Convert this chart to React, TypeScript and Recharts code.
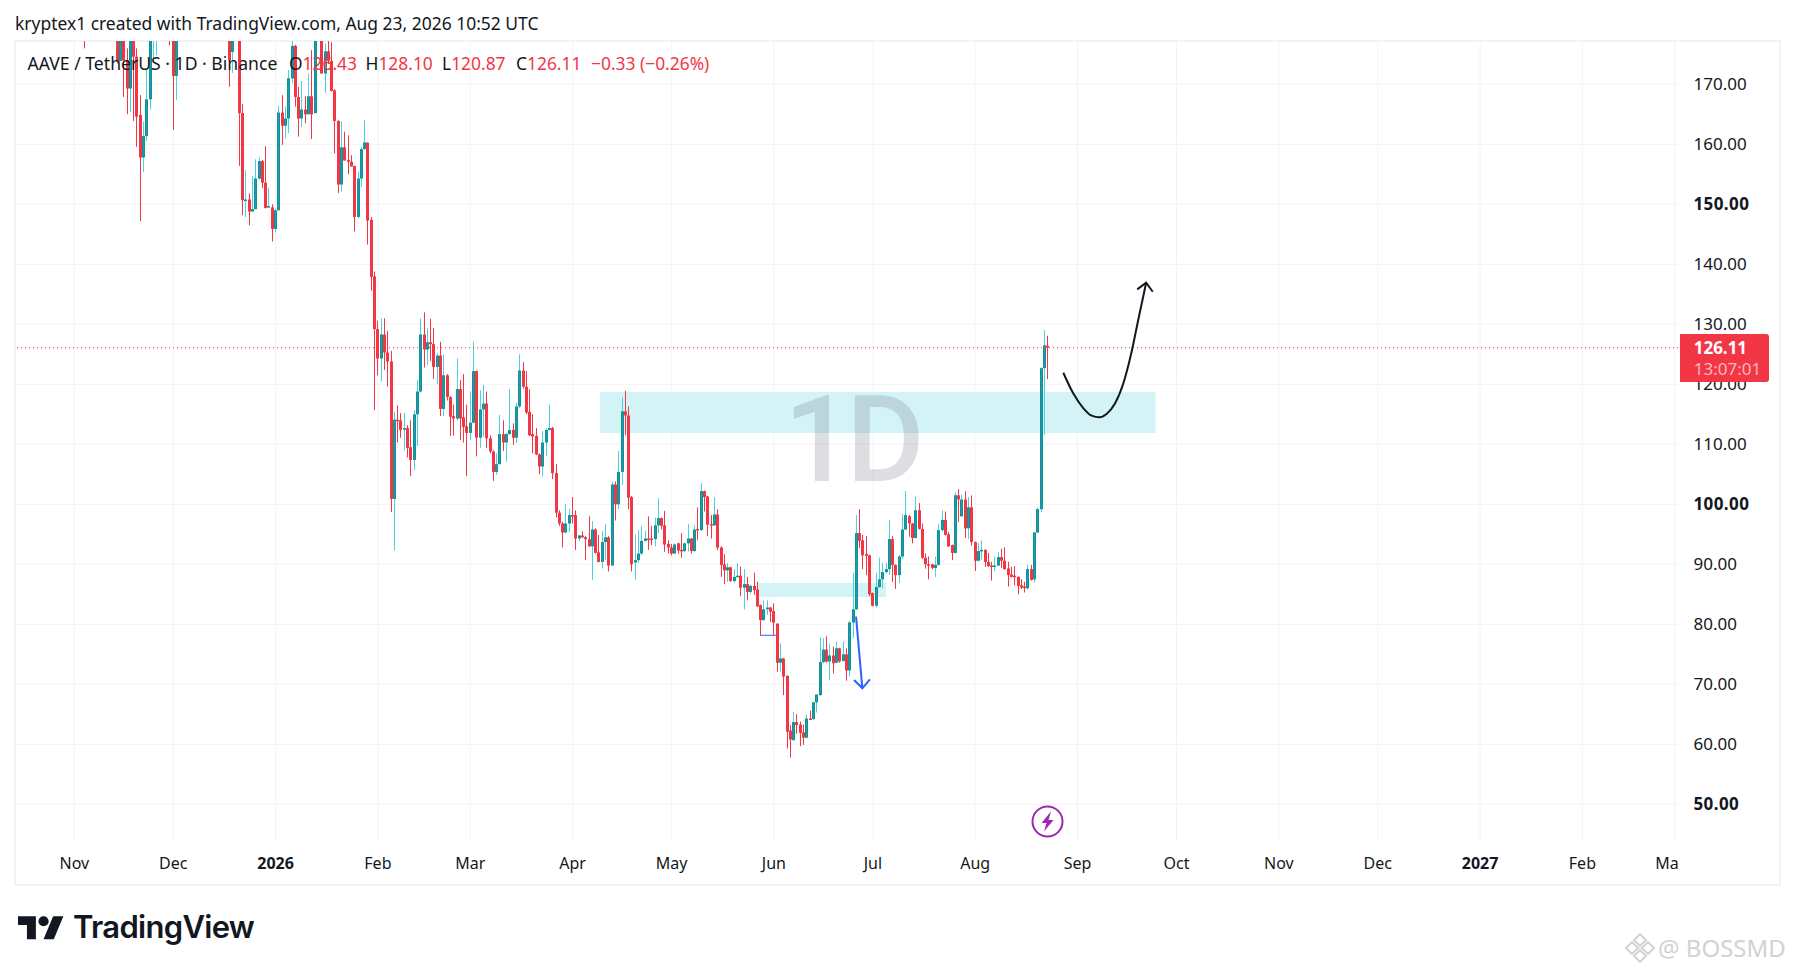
import React from 'react';
import { ComposedChart, Bar, Line, XAxis, YAxis, CartesianGrid, ReferenceArea, ReferenceLine } from 'recharts';

// day = days since 1 Nov 2025, row = [day, open, high, low, close]
const nov25 = [
  [3, 186, 188, 176, 178], [13, 180, 183, 173.5, 173.9], [14, 173.9, 182, 173.9, 180], [15, 182, 184, 167.9, 174],
  [16, 174, 176, 165, 169.3], [17, 169.3, 180, 165.4, 179], [18, 180, 182, 163.9, 174.6], [19, 174.6, 176, 159.6, 164.6],
  [20, 164.9, 168.2, 147.2, 157.8], [21, 157.8, 163.8, 155.4, 161.4], [22, 161.4, 172.4, 160.6, 167.5], [23, 167.5, 180, 165.8, 178],
  [24, 180, 184, 174.3, 181], [25, 181, 186, 174.9, 184], [29, 186, 188, 176.5, 178.5],
];
const dec25 = [
  [30, 178.5, 181, 162.4, 171.4], [31, 171.4, 179, 167.4, 178], [47, 182, 184, 169.6, 174], [48, 175.4, 180, 171.9, 179],
  [50, 182, 184, 156.4, 165.2], [51, 165.2, 166.7, 148.2, 150.7], [52, 150.6, 155.7, 147.9, 150.8], [53, 150.8, 151.8, 146.5, 148.8],
  [54, 148.8, 154.7, 148.8, 149.2], [55, 149.2, 157.5, 149.2, 154.3], [56, 154.3, 157.8, 154.1, 157.2], [57, 157.2, 157.4, 152.7, 153.6],
  [58, 153.6, 159.7, 149.3, 149.4], [59, 149.6, 152.7, 149.5, 149.7], [60, 149.5, 150, 143.8, 145.9],
];
const jan26 = [
  [61, 145.9, 149.3, 145.3, 149], [62, 149, 166.4, 149, 165.3], [63, 165.3, 168.2, 159.9, 163.1], [64, 163.1, 166.3, 161, 164.3],
  [65, 164.3, 172.4, 161.9, 171], [66, 171, 177.2, 170.2, 176.4], [67, 176.4, 176.6, 166.3, 167.9], [68, 167.9, 169.6, 161.3, 164.3],
  [69, 164.3, 170.6, 162.9, 165.8], [70, 165.8, 168, 163.5, 165], [71, 165, 171.8, 165, 168], [72, 168, 175.7, 160.9, 165],
  [73, 165.2, 183, 165.2, 180], [75, 182, 185, 171.8, 171.8], [76, 171.8, 176.8, 168.6, 175.5], [77, 175.5, 177.2, 173.4, 173.9],
  [78, 173.9, 177, 168.8, 168.9], [79, 169, 169.2, 158.5, 163.9], [80, 163.9, 164, 151.9, 153.3], [81, 153.3, 163.8, 152.1, 159.5],
  [82, 159.5, 162.1, 157.3, 157.3], [83, 157.4, 161.5, 155, 157.1], [84, 157.1, 158.2, 156.3, 156.3], [85, 156.4, 156.4, 145.5, 147.9],
  [86, 147.9, 155.5, 147.7, 154.3], [87, 154.3, 159.6, 152.9, 159.2], [88, 159.2, 164, 159.2, 160.3], [89, 160.3, 160.3, 143.3, 147.3],
  [90, 147.4, 147.9, 135.6, 137.9], [91, 138, 138.8, 115.7, 129.2],
];
const feb26 = [
  [92, 129.2, 130.6, 121.5, 124.3], [93, 124.3, 131, 120.5, 128.3], [94, 128.3, 131, 122.4, 125.3], [95, 125.3, 128.9, 119.6, 123.8],
  [96, 123.8, 125.6, 98.7, 100.9], [97, 100.9, 115.4, 92.3, 114.1], [98, 114.1, 116.5, 110.3, 114], [99, 114, 115.2, 111.1, 112.4],
  [100, 112.5, 115.2, 109, 112.7], [101, 112.7, 113.2, 107.8, 109.4], [102, 109.5, 114, 104.7, 107.4], [103, 107.4, 115.7, 105.7, 115],
  [104, 115, 120.7, 109.7, 118.8], [105, 118.8, 131, 118.6, 128.3], [106, 128.3, 132, 122.8, 125.8], [107, 125.8, 129.4, 123.2, 127],
  [108, 127, 130.9, 123.9, 126.7], [109, 126.7, 129.4, 120.9, 122.9], [110, 122.9, 125.2, 120, 124.8], [111, 124.8, 127.1, 114.7, 115.9],
  [112, 115.9, 125, 114.7, 121.5], [113, 121.5, 121.7, 117.3, 117.9], [114, 117.9, 118, 111.4, 114.6], [115, 114.7, 116.6, 111.5, 114.3],
  [116, 114.3, 124.3, 113.9, 119.2], [117, 119.2, 120.7, 110.7, 114.3], [118, 114.5, 121.7, 110.3, 112.9], [119, 113, 116.6, 104.7, 111.9],
];
const mar26 = [
  [120, 111.9, 118.8, 110.7, 113.6], [121, 113.6, 127.1, 113.5, 122.2], [122, 122.2, 122.3, 108, 111.1], [123, 111.1, 119, 109.4, 115.8],
  [124, 115.8, 119.9, 111.3, 116.8], [125, 116.8, 118.8, 109.4, 111], [126, 111, 111.5, 108.5, 108.8], [127, 108.8, 109, 103.9, 105.4],
  [128, 105.4, 108.5, 104.9, 106.7], [129, 106.7, 114.9, 106.6, 111.7], [130, 111.7, 114, 108.9, 110.3], [131, 110.3, 111.9, 107.1, 111.7],
  [132, 111.7, 119.2, 111.6, 112.4], [133, 112.4, 113.5, 109.9, 111.1], [134, 111.1, 116.9, 110.2, 116.3], [135, 116.3, 125, 116, 122.3],
  [136, 122.3, 123.7, 119.3, 119.6], [137, 119.6, 122.2, 115, 115.3], [138, 115.4, 119.2, 111.4, 111.5], [139, 111.7, 115, 108.5, 111.3],
  [140, 111.4, 112.7, 108.2, 108.3], [141, 108.3, 108.5, 105, 106.3], [142, 106.3, 112.2, 104.7, 110.3], [143, 110.3, 112.7, 108, 112.4],
  [144, 112.4, 116.6, 112.3, 112.7], [145, 112.7, 112.9, 104.2, 105.2], [146, 105.2, 106.7, 97.8, 98.6], [147, 98.6, 99, 96.4, 96.8],
  [148, 96.8, 97.1, 92.8, 95.3], [149, 95.3, 100, 95.2, 96.8], [150, 96.8, 99.3, 95.4, 98.2],
];
const apr26 = [
  [151, 98.2, 101.2, 96.8, 98], [152, 98.2, 99, 92.4, 94.3], [153, 94.3, 94.9, 93.9, 94.8], [154, 94.8, 95.5, 94.4, 94.5],
  [155, 94.5, 94.7, 90.7, 94.2], [156, 94.2, 98, 92.9, 93], [157, 93, 97.2, 87.4, 95.8], [158, 95.8, 96, 91.8, 91.9],
  [159, 92, 94.9, 90.3, 90.4], [160, 90.4, 95.5, 89.3, 93.7], [161, 93.7, 96.7, 90.7, 94.5], [162, 94.5, 94.7, 88.8, 89.8],
  [163, 89.8, 103.8, 89.7, 103.3], [164, 103.3, 103.8, 97.3, 100], [165, 100, 108.9, 99.2, 105.4], [166, 105.4, 117.8, 103.2, 115.5],
  [167, 115.5, 118.9, 111.5, 114.8], [168, 114.8, 116.3, 99.2, 101.1], [169, 101.2, 101.4, 88.8, 90], [170, 90.3, 95, 87.4, 90.7],
  [171, 90.7, 95.7, 90.2, 91.8], [172, 91.8, 96.4, 91.5, 93.9], [173, 93.9, 95.6, 93.8, 94.3], [174, 94.3, 98, 92.4, 94.2],
  [175, 94.3, 96.4, 93.2, 94.1], [176, 94.2, 97.8, 93, 96.5], [177, 96.5, 101, 95.2, 97.7], [178, 97.7, 97.8, 95.8, 96.4],
  [179, 96.5, 98.9, 92.1, 93.3], [180, 93.4, 94, 91.8, 92.8],
];
const may26 = [
  [181, 92.8, 93.4, 91.5, 91.8], [182, 91.8, 93.5, 91.7, 93.3], [183, 93.5, 93.6, 91.8, 92.3], [184, 92.4, 95.2, 91.1, 92.2],
  [185, 92.2, 93.6, 92.1, 93.5], [186, 93.5, 96.7, 92.1, 94.3], [187, 94.3, 94.4, 91.8, 92.2], [188, 92.2, 96.5, 92.1, 95.8],
  [189, 95.9, 99.5, 94, 95.7], [190, 95.7, 103.5, 95.6, 102.2], [191, 102.2, 102.3, 98.8, 101.2], [192, 101.3, 101.4, 94.7, 96.6],
  [193, 96.7, 98.2, 94.3, 96.5], [194, 96.5, 101.2, 96.4, 98.3], [195, 98.3, 99.2, 92.4, 92.8], [196, 92.8, 93, 87.9, 89.9],
  [197, 90, 91.7, 86.7, 89], [198, 89, 90.2, 87.1, 89.5], [199, 89.5, 89.6, 87.1, 87.2], [200, 87.2, 89.2, 87, 87.9],
  [201, 88, 90.2, 87.9, 88.1], [202, 88.1, 89.6, 84.7, 86.1], [203, 86.1, 89.2, 82.5, 86.7], [204, 86.7, 87.9, 84, 85.4],
  [205, 85.4, 86.6, 85.1, 86.4], [206, 86.4, 88.6, 84.9, 85.7], [207, 85.8, 87.1, 82.9, 83], [208, 83.2, 83.3, 78.1, 80.7],
  [209, 80.7, 84, 80.6, 82.5], [210, 82.5, 84, 81.6, 82.8], [211, 82.8, 82.9, 80.4, 82.1],
];
const jun26 = [
  [212, 82.2, 83.5, 78.2, 80.3], [213, 80.1, 80.2, 72.1, 73.6], [214, 73.6, 76.8, 72.1, 74.3], [215, 74.3, 74.4, 68.2, 71.3],
  [216, 71.4, 71.5, 59.3, 62.1], [217, 62.3, 63.2, 57.8, 60.8], [218, 60.7, 65.4, 60.6, 63.7], [219, 63.7, 65, 61.8, 63.2],
  [220, 63.3, 63.8, 59.7, 61.9], [221, 62, 63.3, 59.9, 61.1], [222, 61.1, 64.9, 61, 64.3], [223, 64.3, 65.6, 64.1, 64.2],
  [224, 64.2, 67.1, 64.1, 67], [225, 67, 68.3, 65.3, 68.3], [226, 68.2, 77.8, 68.1, 73.7], [227, 73.7, 77.7, 73.5, 75.8],
  [228, 75.8, 78, 73.6, 73.8], [229, 73.8, 76.8, 70.7, 74.8], [230, 74.8, 76.3, 71.8, 73.5], [231, 73.6, 77.1, 73.5, 76],
  [232, 76, 76.1, 73.6, 73.8], [233, 73.9, 77.1, 73.8, 75], [234, 75, 76, 70.6, 72.3], [235, 72.3, 80.6, 71.3, 80.3],
  [236, 80.3, 88.6, 77.7, 82.5], [237, 82.5, 98.2, 82.4, 95.2], [238, 95.2, 99.2, 92.7, 93.9], [239, 94, 94.9, 89.2, 91.5],
  [240, 91.7, 94.7, 88.2, 91.4], [241, 91.5, 91.6, 84.7, 85],
];
const jul26 = [
  [242, 85.2, 85.3, 83, 83.1], [243, 83.1, 88.6, 82.8, 86.2], [244, 86.2, 91.1, 86.1, 87.5], [245, 87.5, 90.2, 86, 88.7],
  [246, 88.7, 90.3, 88.5, 89.2], [247, 89.2, 97.4, 88.2, 94.2], [248, 94.2, 94.7, 87.1, 89.9], [249, 89.9, 90, 85.9, 88.2],
  [250, 88.2, 91.5, 86.9, 91.3], [251, 91.3, 98.4, 90.9, 95.8], [252, 95.8, 102.2, 95.7, 98.2], [253, 98, 98.2, 94.6, 96.8],
  [254, 96.8, 96.9, 93.5, 94.4], [255, 94.4, 101.3, 94.3, 99], [256, 99, 100.2, 95.8, 95.9], [257, 95.9, 96.8, 90.9, 91.1],
  [258, 91.1, 91.8, 89.3, 90], [259, 90, 91.3, 87.5, 89.9], [260, 90, 90.1, 89.2, 89.4], [261, 89.4, 91.3, 87.9, 89.9],
  [262, 89.9, 96.7, 89.8, 95.7], [263, 95.7, 99, 95.4, 97.4], [264, 97.4, 98.8, 94.8, 94.9], [265, 95, 95.4, 92.9, 93],
  [266, 93.2, 93.3, 90.7, 91.9], [267, 91.9, 102, 91.8, 101.5], [268, 101.5, 102.5, 97.1, 100.8], [269, 98, 101.6, 97.9, 100.8],
  [270, 100.8, 102.2, 94.4, 96], [271, 96, 101.2, 94.2, 99.5], [272, 99.5, 101.5, 93.1, 93.7],
];
const aug26 = [
  [273, 93.7, 93.8, 88.9, 90.6], [274, 90.6, 93.5, 90.5, 92.2], [275, 92.2, 94, 90.8, 92.4], [276, 92.4, 92.5, 89.6, 90.4],
  [277, 90.4, 91.9, 89.6, 89.7], [278, 89.8, 90.4, 87.3, 89.7], [279, 89.7, 91.3, 88.9, 89.8], [280, 89.8, 92.1, 89.7, 91.2],
  [281, 91.2, 92.6, 89.4, 90.6], [282, 90.6, 92.8, 89.1, 89.2], [283, 89.3, 90.4, 86.3, 88.2], [284, 88.3, 89.6, 87.8, 87.9],
  [285, 88.1, 89.7, 86.5, 87.9], [286, 87.9, 88, 85, 86.4], [287, 86.5, 87.5, 85.9, 86.1], [288, 86.3, 87.1, 85.3, 86.1],
  [289, 86, 89.9, 85.8, 89.2], [290, 89.2, 89.9, 87.3, 87.4], [291, 87.5, 95.4, 87, 95.3], [292, 95.3, 99.4, 95.2, 99.2],
  [293, 99.2, 122.9, 98.7, 122.7], [294, 122.7, 129, 111.6, 126.5], [295, 126.43, 128.1, 120.87, 126.11],
];

const monthTicks = [0, 30, 61, 92, 120, 151, 181, 212, 242, 273, 304, 334, 365, 395, 426, 457, 485];
const monthLabels = ['Nov', 'Dec', '2026', 'Feb', 'Mar', 'Apr', 'May', 'Jun', 'Jul', 'Aug', 'Sep', 'Oct', 'Nov', 'Dec', '2027', 'Feb', 'Ma'];
const priceTicks = [50, 60, 70, 80, 90, 100, 110, 120, 130, 140, 150, 160, 170];
const boldPrices = [50, 100, 150];

const lastPrice = 126.11;
const upperZone = { x1: 159.3, x2: 327.7, y1: 111.88, y2: 118.72 };
const lowerZone = { x1: 206.9, x2: 246, y1: 84.55, y2: 86.88 };

// hand drawn annotations
const swingCurve = [
  { day: 299.7, price: 121.93 }, { day: 302.7, price: 118.5 }, { day: 305.8, price: 116 }, { day: 308.3, price: 114.77 },
  { day: 310.6, price: 114.5 }, { day: 312.8, price: 115.05 }, { day: 315.4, price: 116.83 }, { day: 317.9, price: 120.17 },
  { day: 320.4, price: 125.43 }, { day: 322.4, price: 130.72 }, { day: 324.8, price: 136.93 },
];
const swingHead = [{ day: 322.1, price: 135.83 }, { day: 324.8, price: 136.93 }, { day: 326.8, price: 135.43 }];
const dropShaft = [{ day: 236.9, price: 81.27 }, { day: 238.8, price: 69.33 }];
const dropHead = [{ day: 236.3, price: 70.72 }, { day: 238.8, price: 69.33 }, { day: 241.1, price: 70.83 }];
const measureLine = [{ day: 207.9, price: 78.17 }, { day: 212.6, price: 78.17 }];

const chartData = [...nov25, ...dec25, ...jan26, ...feb26, ...mar26, ...apr26, ...may26, ...jun26, ...jul26, ...aug26].map(
  ([day, open, high, low, close]) => ({ day, open, high, low, close, range: [low, high] })
);

const RED = '#f23645';
const TEAL = '#089981';
const BLUE_CORE = '#2e8bd6';
const CYAN = '#4dd0e1';
const INK = '#131722';
const FONT = '"Noto Sans", sans-serif';

const Candle: React.FC<any> = ({ x, y, width, height, payload }) => {
  const { open, high, low, close } = payload;
  const perUnit = Math.abs(height) / (high - low);
  const top = Math.min(y, y + height);
  const up = close >= open;
  const bodyTop = top + (high - Math.max(open, close)) * perUnit;
  const bodyH = Math.max(Math.abs(open - close) * perUnit, 1.5);
  const left = Math.round(x + width / 2 - 1.5);
  return (
    <g>
      <rect x={left + 1} y={top} width={1} height={Math.abs(height)} fill={up ? CYAN : RED} />
      <rect x={left} y={bodyTop} width={3} height={bodyH} fill={up ? TEAL : RED} />
      {up && bodyH > 3 && <rect x={left + 1} y={bodyTop + 1} width={1} height={bodyH - 2} fill={BLUE_CORE} />}
    </g>
  );
};

const TimeTick: React.FC<any> = ({ x, y, payload }) => {
  const label = monthLabels[monthTicks.indexOf(payload.value)];
  const cut = label === 'Ma';
  return (
    <text
      x={cut ? x + 4 : x}
      y={y + 21}
      textAnchor={cut ? 'end' : 'middle'}
      fontFamily={FONT}
      fontSize={16}
      fontWeight={label.length === 4 ? 700 : 400}
      fill={INK}
    >
      {label}
    </text>
  );
};

const PriceTick: React.FC<any> = ({ x, y, payload }) => {
  const bold = boldPrices.includes(payload.value);
  return (
    <text
      x={x + 15.5}
      y={y + 5.5}
      fontFamily={FONT}
      fontSize={17}
      fontWeight={bold ? 700 : 400}
      letterSpacing={bold ? 0.4 : 0}
      fill={INK}
    >
      {payload.value.toFixed(2)}
    </text>
  );
};

const place = (left: number, top: number, extra: React.CSSProperties = {}): React.CSSProperties => ({
  position: 'absolute',
  left,
  top,
  whiteSpace: 'nowrap',
  fontFamily: FONT,
  lineHeight: 1,
  ...extra,
});

const legendValues = [
  { tag: 'O', value: '126.43', left: 289 },
  { tag: 'H', value: '128.10', left: 365.5 },
  { tag: 'L', value: '120.87', left: 442 },
  { tag: 'C', value: '126.11', left: 516 },
];

export default function App() {
  return (
    <div style={{ position: 'absolute', left: 0, top: 0, width: 1793, height: 973, background: '#fff', overflow: 'hidden' }}>
      <div style={place(15, 14.5, { fontSize: 17.45, color: INK })}>kryptex1 created with TradingView.com, Aug 23, 2026 10:52 UTC</div>
      <div style={{ position: 'absolute', left: 14, top: 39.5, width: 1763, height: 842.5, border: '2px solid #f2f3f5' }} />

      <div style={{ position: 'absolute', left: 0, top: 0 }}>
        <ComposedChart width={1793} height={973} data={chartData} margin={{ top: 41, right: 0, bottom: 0, left: 15 }}>
          <CartesianGrid stroke="#f3f3f4" strokeWidth={1} syncWithTicks />
          <XAxis
            dataKey="day"
            type="number"
            domain={[-17.97, 485.97]}
            allowDataOverflow
            ticks={monthTicks}
            interval={0}
            height={133}
            axisLine={false}
            tickLine={false}
            tick={<TimeTick />}
          />
          <YAxis
            orientation="right"
            type="number"
            domain={[44.05, 177.22]}
            allowDataOverflow
            ticks={priceTicks}
            interval={0}
            width={115}
            axisLine={false}
            tickLine={false}
            tickSize={0}
            tickMargin={0}
            tick={<PriceTick />}
          />
          <ReferenceArea {...upperZone} fill="#d3f3f7" fillOpacity={1} stroke="none" />
          <ReferenceArea {...lowerZone} fill="#d3f3f7" fillOpacity={1} stroke="none" />
          <Bar dataKey="range" barSize={3} isAnimationActive={false} shape={(p: any) => <Candle {...p} />} />
          <ReferenceLine y={lastPrice} stroke={RED} strokeWidth={1} strokeDasharray="1 3" />
          <Line data={swingCurve} dataKey="price" type="monotone" stroke={INK} strokeWidth={2} dot={false} isAnimationActive={false} />
          <Line data={swingHead} dataKey="price" type="linear" stroke={INK} strokeWidth={2} dot={false} isAnimationActive={false} />
          <Line data={dropShaft} dataKey="price" type="linear" stroke="#2962ff" strokeWidth={2} dot={false} isAnimationActive={false} />
          <Line data={dropHead} dataKey="price" type="linear" stroke="#2962ff" strokeWidth={2} dot={false} isAnimationActive={false} />
          <Line data={measureLine} dataKey="price" type="linear" stroke="#2962ff" strokeWidth={1} dot={false} isAnimationActive={false} />
        </ComposedChart>
      </div>

      <div style={place(784, 380, { fontFamily: 'Roboto, sans-serif', fontSize: 120, fontWeight: 500, letterSpacing: -6, color: 'rgba(120,123,134,0.25)' })}>1D</div>

      <div style={place(27.5, 54.5, { fontSize: 17.6, color: INK })}>AAVE / TetherUS · 1D · Binance</div>
      {legendValues.map(item => (
        <div key={item.tag} style={place(item.left, 54.5, { fontSize: 17.4, color: INK })}>
          {item.tag}
          <span style={{ color: RED }}>{item.value}</span>
        </div>
      ))}
      <div style={place(591, 54.5, { fontSize: 17.4, color: RED })}>−0.33 (−0.26%)</div>

      <div style={{ position: 'absolute', left: 1680, top: 334, width: 89, height: 48, background: RED, borderRadius: '0 3px 3px 0' }} />
      <div style={place(1693.7, 339, { fontSize: 17, fontWeight: 700, color: '#fff' })}>126.11</div>
      <div style={place(1693.7, 360, { fontSize: 17, color: 'rgba(255,255,255,0.65)' })}>13:07:01</div>

      <svg style={{ position: 'absolute', left: 1030, top: 804 }} width={35} height={35} viewBox="0 0 35 35">
        <circle cx={17.5} cy={17.5} r={15} fill="#fff" stroke="#9c27b0" strokeWidth={2} />
        <path d="M21 7.5 L11.5 19 H16.5 L14 27.5 L23.5 16 H18.5 Z" fill="#9c27b0" />
      </svg>

      <svg style={{ position: 'absolute', left: 18, top: 911 }} width={46} height={32} viewBox="0 0 36 25">
        <path d="M14 22H7V11H0V4h14v18z" fill={INK} />
        <path d="M28 22h-8l7.5-18h8L28 22z" fill={INK} />
        <circle cx={20} cy={8} r={4} fill={INK} />
      </svg>
      <div style={place(73, 911, { fontFamily: 'Inter, sans-serif', fontSize: 31, fontWeight: 600, color: INK, letterSpacing: -0.7 })}>TradingView</div>

      <svg style={{ position: 'absolute', left: 1625, top: 932 }} width={30} height={32} viewBox="0 0 30 32">
        <g fill="none" stroke="#d4d4d4" strokeWidth={2}>
          <path d="M15 2 L21 8 L15 14 L9 8 Z" />
          <path d="M15 18 L21 24 L15 30 L9 24 Z" />
          <path d="M7 10 L13 16 L7 22 L1 16 Z" />
          <path d="M23 10 L29 16 L23 22 L17 16 Z" />
        </g>
      </svg>
      <div style={place(1658, 936, { fontSize: 24, color: '#d2d2d2' })}>@ BOSSMD</div>
    </div>
  );
}
